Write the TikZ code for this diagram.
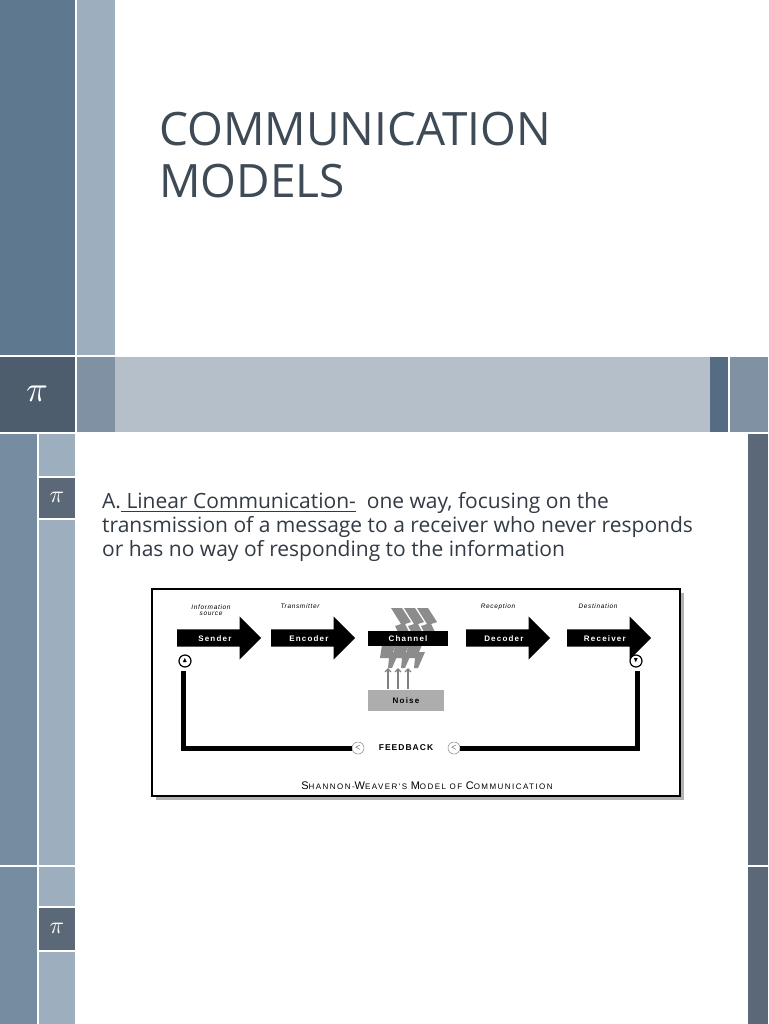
\documentclass[tikz,border=0pt]{standalone}
\usepackage{amssymb}
\usepackage{fontspec}
\setmainfont{Open Sans}
\newfontfamily\hv{Liberation Sans}
\usetikzlibrary{shapes.arrows,arrows.meta}
\definecolor{dk}{HTML}{5E7890}
\definecolor{dkk}{HTML}{4D5D6E}
\definecolor{lt}{HTML}{9DAFBE}
\definecolor{band}{HTML}{B5BFC9}
\definecolor{mid}{HTML}{7F91A2}
\definecolor{ttl}{HTML}{3E4A56}
\definecolor{rd}{HTML}{5A6878}
\tikzset{
 sarrow/.style={single arrow,fill=black,draw=none,minimum height=84pt,minimum width=0pt,single arrow head extend=13pt,inner xsep=0pt,inner ysep=5.5pt,text height=6pt,text depth=0pt,text=white,font=\hv\fontsize{8}{8}\bfseries\selectfont\addfontfeature{LetterSpace=15},anchor=west},
 lab/.style={font=\hv\fontsize{6.5}{6.5}\itshape\selectfont\addfontfeature{LetterSpace=10},align=center},
 circ/.style={circle,draw=black,line width=1.2pt,fill=white,minimum size=12pt,inner sep=0pt},
 fb/.style={line width=5pt}
}
\begin{document}
\begin{tikzpicture}[x=1pt,y=-1pt]
\useasboundingbox (0,0) rectangle (768,1024);
\fill[white] (0,0) rectangle (768,1024);
% top
\fill[dk] (0,0) rectangle (75,355);
\fill[lt] (77,0) rectangle (115,355);
% band
\fill[dkk] (0,357) rectangle (75,432);
\fill[mid] (77,357) rectangle (115,432);
\fill[band] (115,357) rectangle (710,432);
\fill[dk!90!black] (710,357) rectangle (728,432);
\fill[mid] (730,357) rectangle (768,432);
\node[text=white,scale=3.6] (pi1) at (37,394) {$\pi$};
% bottom columns
\fill[dk!85!white] (0,434) rectangle (37,865);
\fill[dk!85!white] (0,867) rectangle (37,1024);
\fill[lt] (39,434) rectangle (75,476);
\fill[rd] (39,478) rectangle (75,518);
\fill[lt] (39,520) rectangle (75,865);
\fill[lt] (39,867) rectangle (75,906);
\fill[rd] (39,908) rectangle (75,950);
\fill[lt] (39,952) rectangle (75,1024);
\fill[rd] (748,434) rectangle (768,865);
\fill[rd] (748,867) rectangle (768,1024);
\node[text=white,scale=2.4] (pi2) at (57,497) {$\pi$};
\node[text=white,scale=2.4] (pi3) at (57,928) {$\pi$};
% title
\node[anchor=north west,align=left,text=ttl,font=\fontsize{46}{52}\selectfont,inner sep=0pt] (title) at (159,112) {COMMUNICATION\\MODELS};
% body
\node[anchor=north west,align=left,text=ttl!80!black,font=\fontsize{21}{24}\selectfont,inner sep=0pt] (body) at (102,492)
{A.\underline{\ Linear Communication-}\ \ one way, focusing on the\\transmission of a message to a receiver who never responds\\or has no way of responding to the information};
% diagram box
\fill[black!30] (156,593) rectangle (684,800);
\draw[line width=2pt,fill=white] (152,589) rectangle (680,796);
\node[sarrow] (send) at (177,638) {Sender\hspace{14pt}};
\node[sarrow] (enc) at (271,638) {Encoder\hspace{14pt}};
\node[sarrow] (dec) at (466,638) {Decoder\hspace{14pt}};
\node[sarrow] (rec) at (567,638) {Receiver\hspace{14pt}};
% lightning
\foreach \dx in {0,13,26}{
 \fill[black!45] (391+\dx,608) -- (402+\dx,608) -- (411+\dx,622) -- (405+\dx,624) -- (409+\dx,632) -- (398+\dx,632) -- (395+\dx,626) -- (401+\dx,624) -- cycle;
 \fill[black!45] (382+\dx,645) -- (396+\dx,645) -- (393+\dx,652) -- (399+\dx,652) -- (392+\dx,668) -- (388+\dx,668) -- (389+\dx,658) -- (380+\dx,658) -- cycle;
}
\node[fill=black,text=white,font=\hv\fontsize{8}{8}\bfseries\selectfont\addfontfeature{LetterSpace=15},minimum width=80pt,minimum height=15pt,inner sep=0pt,text height=6pt,text depth=0pt] (chan) at (408,638) {Channel};
\node[fill=black!32,font=\hv\fontsize{8}{8}\bfseries\selectfont\addfontfeature{LetterSpace=15},minimum width=76pt,minimum height=21pt,inner sep=0pt,text height=6pt,text depth=0pt] (noise) at (406,700) {Noise};
\foreach \x in {388,398,408}{
 \coordinate (na\x) at (\x,689);
 \coordinate (nb\x) at (\x,668);
 \draw[black!50,line width=1.3pt,-{Straight Barb[length=3pt]}] (na\x) -- (nb\x);
}
\node[lab] (l1) at (211,610) {Information\\source};
\node[lab] (l2) at (300,606) {Transmitter};
\node[lab] (l3) at (498,607) {Reception};
\node[lab] (l4) at (598,606) {Destination};
\node[circ] (cu) at (185,661) {\scalebox{0.7}{$\blacktriangle$}};
\node[circ] (cd) at (636,661) {\scalebox{0.7}{$\blacktriangledown$}};
\node[font=\hv\fontsize{8.5}{9}\bfseries\selectfont\addfontfeature{LetterSpace=12}] (fbk) at (406,748) {FEEDBACK};
\node[circ,draw=black!40,line width=0.6pt] (c1) at (358,748) {\scriptsize$<$};
\node[circ,draw=black!40,line width=0.6pt] (c2) at (454,748) {\scriptsize$<$};
\draw[fb] (c1.west) -- (183,748) -- (183,671);
\draw[fb] (c2.east) -- (637,748) -- (637,671);
\node[font=\hv\fontsize{11}{11}\selectfont] (cap) at (427,786) {\addfontfeature{LetterSpace=18}S\fontsize{8}{8}\selectfont HANNON-\fontsize{11}{11}\selectfont W\fontsize{8}{8}\selectfont EAVER'S \fontsize{11}{11}\selectfont M\fontsize{8}{8}\selectfont ODEL OF \fontsize{11}{11}\selectfont C\fontsize{8}{8}\selectfont OMMUNICATION};
\end{tikzpicture}
\end{document}
